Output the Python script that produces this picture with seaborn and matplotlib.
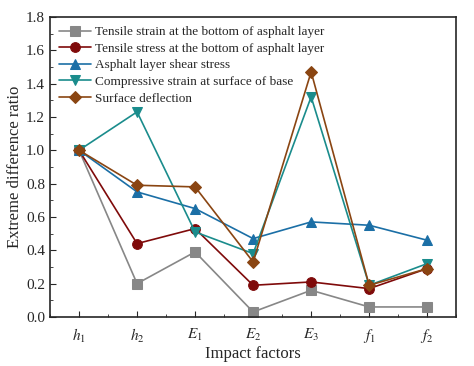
import pandas as pd
import matplotlib
matplotlib.use("Agg")
import matplotlib.pyplot as plt
import seaborn as sns
from matplotlib.ticker import MultipleLocator

# Data
factors = ["$h_1$", "$h_2$", "$E_1$", "$E_2$", "$E_3$", "$f_1$", "$f_2$"]
tensile_strain = [1.0, 0.20, 0.39, 0.03, 0.16, 0.06, 0.06]
tensile_stress = [1.0, 0.44, 0.53, 0.19, 0.21, 0.17, 0.29]
shear_stress = [1.0, 0.75, 0.65, 0.47, 0.57, 0.55, 0.46]
compressive_strain = [1.0, 1.23, 0.51, 0.38, 1.32, 0.19, 0.32]
surface_deflection = [1.0, 0.79, 0.78, 0.33, 1.47, 0.19, 0.29]

series = [
    ("Tensile strain at the bottom of asphalt layer", tensile_strain, "#878787", "s"),
    ("Tensile stress at the bottom of asphalt layer", tensile_stress, "#7f0a0a", "o"),
    ("Asphalt layer shear stress", shear_stress, "#1b6fa6", "^"),
    ("Compressive strain at surface of base", compressive_strain, "#1a8c8c", "v"),
    ("Surface deflection", surface_deflection, "#8a4512", "D"),
]

sns.set_style("ticks")
plt.rcParams['font.family'] = ['Liberation Serif', 'DejaVu Serif']
plt.rcParams['mathtext.fontset'] = 'stix'

fig = plt.figure(figsize=(4.74, 3.66), dpi=100)
ax = fig.add_axes([0.1055, 0.134, 0.857, 0.82])

for name, vals, col, mk in series:
    df = pd.DataFrame({"x": range(len(factors)), "y": vals})
    sns.lineplot(data=df, x="x", y="y", ax=ax, color=col, marker=mk,
                 markersize=7 if mk != "D" else 6.2, markeredgecolor=col,
                 linewidth=1.2, label=name)

ax.set_xlim(-0.5, 6.5)
ax.set_ylim(0, 1.8)
ax.set_xticks(range(len(factors)))
ax.set_xticklabels(factors, fontsize=12)
ax.xaxis.set_minor_locator(MultipleLocator(0.5))
ax.yaxis.set_major_locator(MultipleLocator(0.2))
ax.yaxis.set_minor_locator(MultipleLocator(0.1))
ax.tick_params(which='both', direction='in', labelsize=11)
ax.tick_params(axis='x', pad=7)
ax.tick_params(which='major', length=4)
ax.tick_params(which='minor', length=2.5)
for s in ax.spines.values():
    s.set_linewidth(1.2)

ax.set_xlabel("Impact factors", fontsize=12, labelpad=1)
ax.set_ylabel("Extreme difference ratio", fontsize=12, labelpad=2)

ax.legend(loc="upper left", frameon=False, fontsize=9.5, handlelength=2.4,
          handletextpad=0.3, labelspacing=0.33, borderaxespad=0.5,
          borderpad=0.2)

fig.savefig("out.png", dpi=100)
